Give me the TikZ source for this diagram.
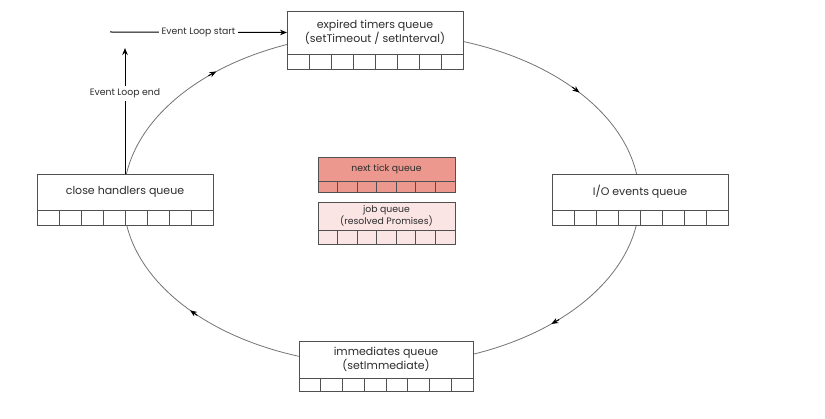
\documentclass[tikz,border=0pt]{standalone}
\usepackage{fontspec}
\setmainfont{Poppins}
\usetikzlibrary{arrows.meta, positioning, calc, decorations.markings}
\definecolor{boxline}{RGB}{80,80,80}
\definecolor{boxtext}{RGB}{45,45,45}
\definecolor{looptone}{RGB}{115,115,115}
\definecolor{ticktone}{RGB}{236,152,142}
\definecolor{jobtone}{RGB}{251,228,228}

\tikzset{
  qlabel/.style={draw=boxline, line width=0.9pt, fill=white, inner sep=0pt, outer sep=0pt,
    align=center, text=boxtext, font=\fontsize{11}{13.5}\selectfont},
  small/.style={font=\fontsize{9.3}{11}\selectfont},
  tick/.style={fill=ticktone, small},
  job/.style={fill=jobtone, small},
  flow/.style={black, line width=1pt, -{Stealth[length=7pt, width=5.5pt]}},
  tag/.style={fill=white, inner sep=3pt, text=boxtext, small},
  tipline/.style={black, line width=1pt, -{Stealth[length=7pt, width=5.5pt]}},
  loopline/.style={looptone, line width=0.8pt}
}

% queue box: name, top left, width, label height, cell height, cells, style, text
\newcommand{\queuebox}[8]{%
  \node[qlabel, #7, minimum width=#3, minimum height=#4, anchor=north west] (#1) at (#2) {#8};
  \node[qlabel, #7, minimum width=#3, minimum height=#5, anchor=north] (#1-cells) at (#1.south) {};
  \foreach \i in {1,...,#6}
    \draw[boxline, line width=0.9pt] ($(#1-cells.south west)!\i/#6!(#1-cells.south east)$)
      -- ($(#1-cells.north west)!\i/#6!(#1-cells.north east)$);
}

\begin{document}
\begin{tikzpicture}[x=1pt, y=-1pt]
  \useasboundingbox (0,0) rectangle (825,419);

  % the loop
  \coordinate (ring) at (381.5,199);
  \draw[loopline, decoration={markings,
      mark=at position 0.119 with {\draw[tipline] (-9pt,0) -- (0pt,0);},
      mark=at position 0.400 with {\draw[tipline] (-9pt,0) -- (0pt,0);},
      mark=at position 0.623 with {\draw[tipline] (-9pt,0) -- (0pt,0);},
      mark=at position 0.906 with {\draw[tipline] (-9pt,0) -- (0pt,0);}},
    postaction={decorate}] (ring) ellipse [x radius=258, y radius=166];

  % queues
  \queuebox{timers}{287,11}{176pt}{43pt}{15pt}{8}{}{expired timers queue\\(setTimeout / setInterval)}
  \queuebox{io}{552,174}{176pt}{36pt}{15pt}{8}{}{I/O events queue}
  \queuebox{immediates}{299,341}{174pt}{37pt}{13pt}{8}{}{immediates queue\\(setImmediate)}
  \queuebox{close}{37,174}{176pt}{36pt}{15pt}{8}{}{close handlers queue}

  % microtask queues
  \queuebox{nexttick}{318,157}{137pt}{24pt}{11pt}{7}{tick}{next tick queue}
  \queuebox{jobs}{318,202}{137pt}{28pt}{14pt}{7}{job}{job queue\\(resolved Promises)}

  % start and end of one turn
  \coordinate (loopstart) at (110,32);
  \coordinate (loopend) at (125,48);
  \draw[flow] (loopstart) -- node[tag] {Event Loop start} (timers.west);
  \draw[flow] (close.north) -- node[tag, pos=0.64] {Event Loop end} (loopend);
\end{tikzpicture}
\end{document}
